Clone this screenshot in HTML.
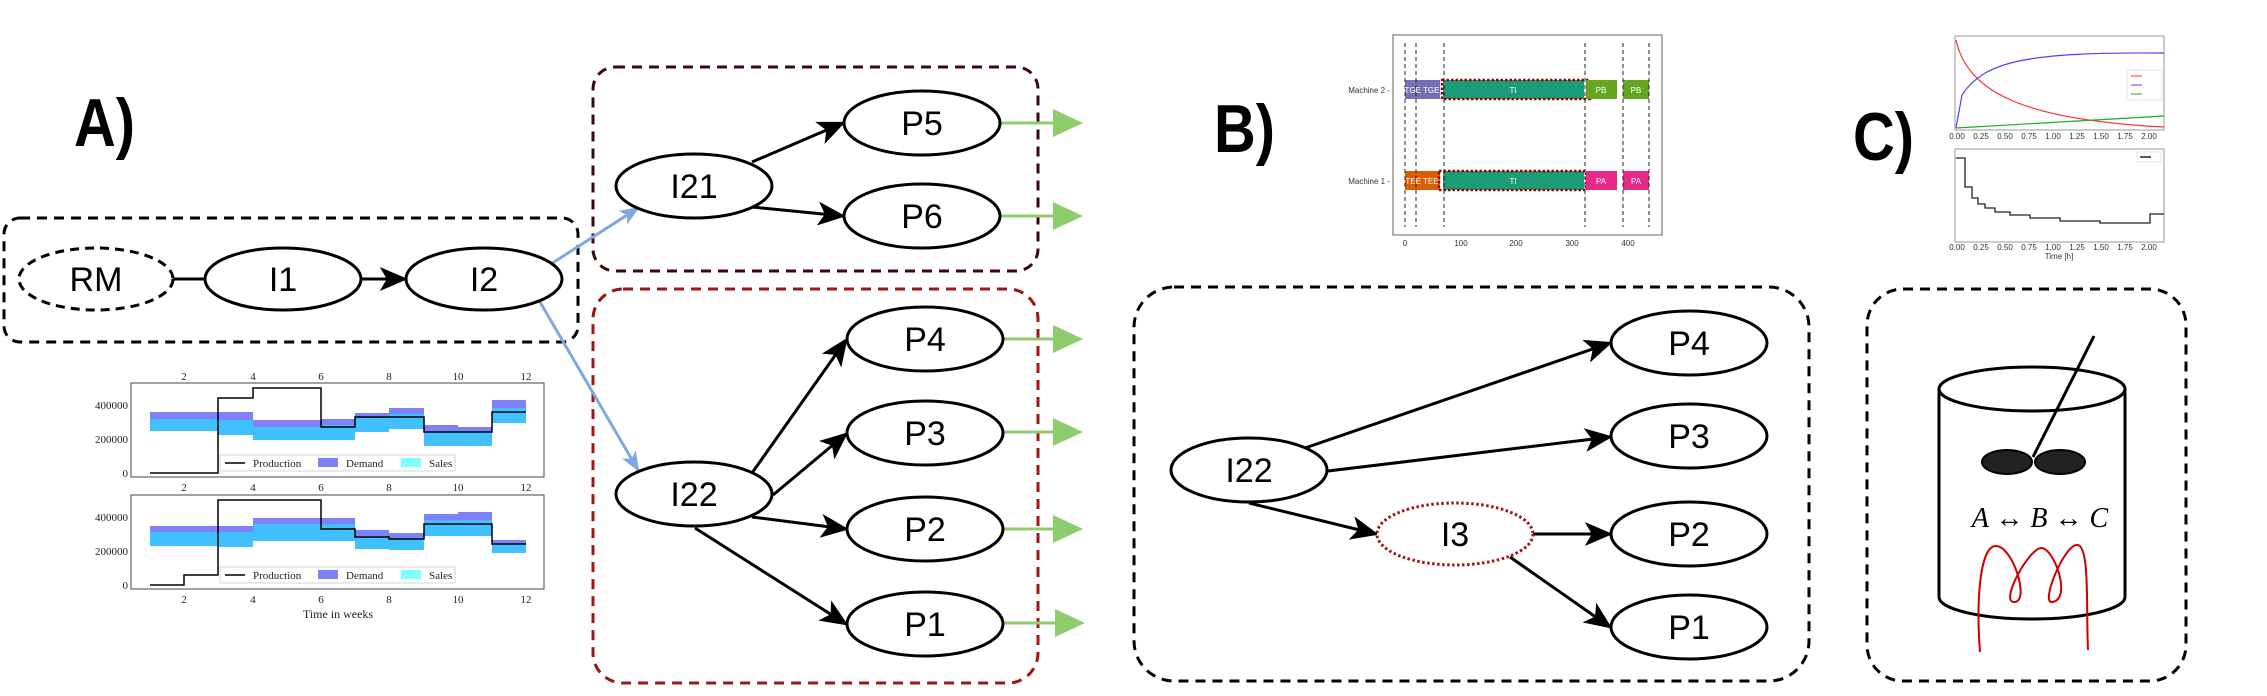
<!DOCTYPE html>
<html><head><meta charset="utf-8"><style>
html,body{margin:0;padding:0;background:#fff;}
svg{display:block;}
.n{font-family:"Liberation Sans",sans-serif;font-size:34px;text-anchor:middle;dominant-baseline:central;}
.s{font-family:"Liberation Serif",serif;font-size:11px;fill:#222;}
.g{font-family:"Liberation Sans",sans-serif;font-size:8px;fill:#333;}
</style></head><body>
<svg width="2267" height="696" viewBox="0 0 2267 696" xmlns="http://www.w3.org/2000/svg">
<defs>
<marker id="ab" viewBox="0 0 10 10" refX="10" refY="5" markerWidth="10" markerHeight="10" markerUnits="userSpaceOnUse" orient="auto"><path d="M0,0 L10,5 L0,10 L2.5,5 z" fill="#000"/></marker>
<marker id="abig" viewBox="0 0 10 10" refX="9" refY="5" markerWidth="28" markerHeight="24" markerUnits="userSpaceOnUse" orient="auto" preserveAspectRatio="none"><path d="M0,0 L10,5 L0,10 L2.5,5 z" fill="#000"/></marker>
<marker id="ablue" viewBox="0 0 10 10" refX="9" refY="5" markerWidth="20" markerHeight="16" markerUnits="userSpaceOnUse" orient="auto" preserveAspectRatio="none"><path d="M0,0 L10,5 L0,10 L2.5,5 z" fill="#7fa7e0"/></marker>
<marker id="agreen" viewBox="0 0 10 10" refX="9" refY="5" markerWidth="30" markerHeight="28" markerUnits="userSpaceOnUse" orient="auto" preserveAspectRatio="none"><path d="M0,0 L10,5 L0,10 z" fill="#8fcc6e"/></marker>
</defs>

<!-- A) -->
<text x="74" y="146" font-family="Liberation Sans,sans-serif" font-weight="bold" font-size="68" transform="translate(74 0) scale(0.85 1) translate(-74 0)">A)</text>
<text x="1214" y="152" font-family="Liberation Sans,sans-serif" font-weight="bold" font-size="68" transform="translate(1214 0) scale(0.85 1) translate(-1214 0)">B)</text>
<text x="1853" y="160" font-family="Liberation Sans,sans-serif" font-weight="bold" font-size="68" transform="translate(1853 0) scale(0.85 1) translate(-1853 0)">C)</text>

<!-- boxes -->
<rect x="4" y="218" width="574" height="124" rx="16" fill="none" stroke="#000" stroke-width="3" stroke-dasharray="10,7"/>
<rect x="593" y="67" width="445" height="204" rx="22" fill="none" stroke="#3a0808" stroke-width="3" stroke-dasharray="10,7"/>
<rect x="593" y="289" width="445" height="394" rx="30" fill="none" stroke="#a01515" stroke-width="3" stroke-dasharray="10,7"/>
<rect x="1134" y="287" width="675" height="394" rx="40" fill="none" stroke="#000" stroke-width="3" stroke-dasharray="10,7"/>
<rect x="1867" y="289" width="319" height="392" rx="36" fill="none" stroke="#000" stroke-width="3" stroke-dasharray="10,7"/>

<!-- A edges -->
<line x1="173" y1="279" x2="205" y2="279" stroke="#000" stroke-width="3"/>
<line x1="361" y1="279" x2="405" y2="279" stroke="#000" stroke-width="3" marker-end="url(#abig)"/>
<line x1="551" y1="264" x2="638" y2="208" stroke="#7fa7e0" stroke-width="3" marker-end="url(#ablue)"/>
<line x1="540" y1="302" x2="638" y2="470" stroke="#7fa7e0" stroke-width="3" marker-end="url(#ablue)"/>
<line x1="752" y1="162" x2="843" y2="123" stroke="#000" stroke-width="3" marker-end="url(#abig)"/>
<line x1="752" y1="207" x2="843" y2="216" stroke="#000" stroke-width="3" marker-end="url(#abig)"/>
<line x1="752" y1="473" x2="846" y2="340" stroke="#000" stroke-width="3" marker-end="url(#abig)"/>
<line x1="773" y1="495" x2="846" y2="434" stroke="#000" stroke-width="3" marker-end="url(#abig)"/>
<line x1="752" y1="517" x2="846" y2="529" stroke="#000" stroke-width="3" marker-end="url(#abig)"/>
<line x1="695" y1="528" x2="846" y2="624" stroke="#000" stroke-width="3" marker-end="url(#abig)"/>
<g stroke="#8fcc6e" stroke-width="3">
<line x1="1001" y1="123" x2="1080" y2="123" marker-end="url(#agreen)"/>
<line x1="1001" y1="216" x2="1080" y2="216" marker-end="url(#agreen)"/>
<line x1="1003" y1="339" x2="1080" y2="339" marker-end="url(#agreen)"/>
<line x1="1003" y1="432" x2="1080" y2="432" marker-end="url(#agreen)"/>
<line x1="1003" y1="529" x2="1080" y2="529" marker-end="url(#agreen)"/>
<line x1="1003" y1="623" x2="1082" y2="623" marker-end="url(#agreen)"/>
</g>

<!-- A nodes -->
<g fill="#fff" stroke="#000" stroke-width="3">
<ellipse cx="96" cy="279" rx="77" ry="31" stroke-dasharray="9,6"/>
<ellipse cx="283" cy="279" rx="78" ry="31"/>
<ellipse cx="484" cy="279" rx="78" ry="31"/>
<ellipse cx="694" cy="186" rx="78" ry="32"/>
<ellipse cx="922" cy="123" rx="78" ry="32"/>
<ellipse cx="922" cy="216" rx="78" ry="32"/>
<ellipse cx="925" cy="339" rx="78" ry="32"/>
<ellipse cx="925" cy="433" rx="78" ry="32"/>
<ellipse cx="925" cy="529" rx="78" ry="32"/>
<ellipse cx="925" cy="624" rx="78" ry="32"/>
<ellipse cx="694" cy="494" rx="78" ry="32"/>
</g>
<g class="n">
<text x="96" y="280">RM</text><text x="283" y="280">I1</text><text x="484" y="280">I2</text>
<text x="694" y="187">I21</text><text x="922" y="124">P5</text><text x="922" y="217">P6</text>
<text x="925" y="340">P4</text><text x="925" y="434">P3</text><text x="925" y="530">P2</text><text x="925" y="625">P1</text>
<text x="694" y="495">I22</text>
</g>

<!-- A charts -->
<g>
<rect x="131" y="383" width="413" height="94" fill="#fff" stroke="#444" stroke-width="1"/>
<g fill="#8080f8">
<rect x="150" y="412" width="68" height="17"/><rect x="218" y="412" width="35" height="20"/><rect x="253" y="420" width="68" height="16"/><rect x="321" y="419" width="34" height="15"/><rect x="355" y="413" width="34" height="15"/><rect x="389" y="408" width="35" height="16"/><rect x="424" y="425" width="34" height="15"/><rect x="458" y="427" width="34" height="14"/><rect x="492" y="400" width="34" height="22"/>
</g>
<g fill="#40c0ff">
<rect x="150" y="419" width="68" height="12"/><rect x="218" y="420" width="35" height="15"/><rect x="253" y="427" width="68" height="13"/><rect x="321" y="425" width="34" height="15"/><rect x="355" y="418" width="34" height="14"/><rect x="389" y="414" width="35" height="15"/><rect x="424" y="431" width="34" height="15"/><rect x="458" y="431" width="34" height="15"/><rect x="492" y="408" width="34" height="15"/>
</g>
<polyline points="150,473 218,473 218,398 253,398 253,388 321,388 321,427 355,427 355,417 424,417 424,432 492,432 492,412 526,412" fill="none" stroke="#000" stroke-width="1.5"/>
<rect x="220" y="455" width="235" height="16" fill="#fff" stroke="#ccc" stroke-width="0.8"/>
<line x1="225" y1="463" x2="245" y2="463" stroke="#000" stroke-width="1.5"/><text class="s" x="253" y="467" font-size="10">Production</text>
<rect x="318" y="458" width="20" height="9" fill="#8080f8"/><text class="s" x="346" y="467" font-size="10">Demand</text>
<rect x="401" y="458" width="20" height="9" fill="#80ffff"/><text class="s" x="429" y="467" font-size="10">Sales</text>
<g class="s" text-anchor="end"><text x="128" y="409">400000</text><text x="128" y="443">200000</text><text x="128" y="477">0</text></g>
<g class="s" text-anchor="middle"><text x="184" y="491">2</text><text x="253" y="491">4</text><text x="321" y="491">6</text><text x="389" y="491">8</text><text x="458" y="491">10</text><text x="526" y="491">12</text>
<text x="184" y="380">2</text><text x="253" y="380">4</text><text x="321" y="380">6</text><text x="389" y="380">8</text><text x="458" y="380">10</text><text x="526" y="380">12</text></g>

<rect x="131" y="495" width="413" height="94" fill="#fff" stroke="#444" stroke-width="1"/>
<g fill="#8080f8">
<rect x="150" y="526" width="68" height="17"/><rect x="218" y="526" width="35" height="17"/><rect x="253" y="518" width="68" height="17"/><rect x="321" y="518" width="34" height="17"/><rect x="355" y="530" width="34" height="16"/><rect x="389" y="533" width="35" height="14"/><rect x="424" y="514" width="34" height="16"/><rect x="458" y="512" width="34" height="18"/><rect x="492" y="540" width="34" height="9"/>
</g>
<g fill="#40c0ff">
<rect x="150" y="532" width="68" height="14"/><rect x="218" y="532" width="35" height="15"/><rect x="253" y="524" width="68" height="17"/><rect x="321" y="524" width="34" height="17"/><rect x="355" y="536" width="34" height="13"/><rect x="389" y="538" width="35" height="12"/><rect x="424" y="520" width="34" height="16"/><rect x="458" y="520" width="34" height="16"/><rect x="492" y="543" width="34" height="10"/>
</g>
<polyline points="150,585 184,585 184,575 218,575 218,500 321,500 321,529 355,529 355,537 389,537 389,539 424,539 424,524 492,524 492,544 526,544" fill="none" stroke="#000" stroke-width="1.5"/>
<rect x="220" y="567" width="235" height="16" fill="#fff" stroke="#ccc" stroke-width="0.8"/>
<line x1="225" y1="575" x2="245" y2="575" stroke="#000" stroke-width="1.5"/><text class="s" x="253" y="579" font-size="10">Production</text>
<rect x="318" y="570" width="20" height="9" fill="#8080f8"/><text class="s" x="346" y="579" font-size="10">Demand</text>
<rect x="401" y="570" width="20" height="9" fill="#80ffff"/><text class="s" x="429" y="579" font-size="10">Sales</text>
<g class="s" text-anchor="end"><text x="128" y="521">400000</text><text x="128" y="555">200000</text><text x="128" y="589">0</text></g>
<g class="s" text-anchor="middle"><text x="184" y="603">2</text><text x="253" y="603">4</text><text x="321" y="603">6</text><text x="389" y="603">8</text><text x="458" y="603">10</text><text x="526" y="603">12</text>
<text x="338" y="618" font-size="12">Time in weeks</text></g>
</g>

<!-- Gantt -->
<rect x="1393" y="35" width="269" height="200" fill="#fff" stroke="#666" stroke-width="1"/>
<rect x="1405" y="80" width="35" height="19" fill="#7570b3"/>
<rect x="1443" y="80" width="141" height="19" fill="#1b9e77"/>
<rect x="1442" y="80" width="148" height="19" fill="none" stroke="#a00000" stroke-width="2.5" stroke-dasharray="2.5,2"/>
<rect x="1586" y="80" width="31" height="19" fill="#66a61e"/>
<rect x="1623" y="80" width="26" height="19" fill="#66a61e"/>
<rect x="1405" y="171" width="35" height="19" fill="#d95f02"/>
<rect x="1443" y="171" width="141" height="19" fill="#1b9e77"/>
<rect x="1439" y="171" width="147" height="19" fill="none" stroke="#a00000" stroke-width="2.5" stroke-dasharray="2.5,2"/>
<rect x="1586" y="171" width="31" height="19" fill="#e7298a"/>
<rect x="1623" y="171" width="26" height="19" fill="#e7298a"/>
<g stroke="#222" stroke-width="1" stroke-dasharray="4,3">
<line x1="1405" y1="43" x2="1405" y2="227"/><line x1="1416" y1="43" x2="1416" y2="227"/><line x1="1444" y1="43" x2="1444" y2="227"/><line x1="1585" y1="43" x2="1585" y2="227"/><line x1="1623" y1="43" x2="1623" y2="227"/><line x1="1649" y1="43" x2="1649" y2="227"/>
</g>
<g class="g" fill="#fff" text-anchor="middle" style="fill:#fff">
<text x="1422" y="93">TGE TGE</text><text x="1513" y="93">TI</text><text x="1601" y="93">PB</text><text x="1636" y="93">PB</text>
<text x="1422" y="184">TEE TEE</text><text x="1513" y="184">TI</text><text x="1601" y="184">PA</text><text x="1636" y="184">PA</text>
</g>
<g class="g" text-anchor="end"><text x="1390" y="93">Machine 2 -</text><text x="1390" y="184">Machine 1 -</text></g>
<g class="g" text-anchor="middle"><text x="1405" y="246">0</text><text x="1461" y="246">100</text><text x="1516" y="246">200</text><text x="1572" y="246">300</text><text x="1628" y="246">400</text></g>

<!-- Conc plots -->
<rect x="1955" y="36" width="209" height="94" fill="#fff" stroke="#999" stroke-width="1"/>
<path d="M1956,40 C1968,95 2030,120 2164,127" fill="none" stroke="#f33" stroke-width="1.2"/>
<path d="M1956,128 L1962,95 C1985,60 2030,52 2164,53" fill="none" stroke="#44f" stroke-width="1.2"/>
<path d="M1956,128 L2164,116" fill="none" stroke="#2a2" stroke-width="1.2"/>
<rect x="2127" y="70" width="35" height="30" fill="#fff" stroke="#ddd" stroke-width="0.8"/>
<line x1="2131" y1="76" x2="2142" y2="76" stroke="#f33"/><line x1="2131" y1="85" x2="2142" y2="85" stroke="#44f"/><line x1="2131" y1="94" x2="2142" y2="94" stroke="#2a2"/>
<rect x="1955" y="149" width="209" height="93" fill="#fff" stroke="#999" stroke-width="1"/>
<polyline points="1956,158 1965,158 1965,187 1972,187 1972,198 1978,198 1978,204 1985,204 1985,208 1995,208 1995,212 2010,212 2010,215 2030,215 2030,218 2060,218 2060,221 2100,221 2100,223 2150,223 2150,214 2164,214" fill="none" stroke="#222" stroke-width="1.3"/>
<rect x="2137" y="152" width="24" height="10" fill="#fff" stroke="#ddd" stroke-width="0.8"/><line x1="2140" y1="157" x2="2151" y2="157" stroke="#222" stroke-width="1.5"/>
<g class="g" font-size="6" text-anchor="middle"><text x="1957" y="139">0.00</text><text x="1981" y="139">0.25</text><text x="2005" y="139">0.50</text><text x="2029" y="139">0.75</text><text x="2053" y="139">1.00</text><text x="2077" y="139">1.25</text><text x="2101" y="139">1.50</text><text x="2125" y="139">1.75</text><text x="2149" y="139">2.00</text>
<text x="1957" y="250">0.00</text><text x="1981" y="250">0.25</text><text x="2005" y="250">0.50</text><text x="2029" y="250">0.75</text><text x="2053" y="250">1.00</text><text x="2077" y="250">1.25</text><text x="2101" y="250">1.50</text><text x="2125" y="250">1.75</text><text x="2149" y="250">2.00</text>
<text x="2059" y="259">Time [h]</text></g>

<!-- B edges -->
<line x1="1305" y1="448" x2="1610" y2="343" stroke="#000" stroke-width="3" marker-end="url(#abig)"/>
<line x1="1328" y1="471" x2="1610" y2="437" stroke="#000" stroke-width="3" marker-end="url(#abig)"/>
<line x1="1249" y1="503" x2="1376" y2="534" stroke="#000" stroke-width="3" marker-end="url(#abig)"/>
<line x1="1533" y1="534" x2="1610" y2="534" stroke="#000" stroke-width="3" marker-end="url(#abig)"/>
<line x1="1510" y1="557" x2="1610" y2="627" stroke="#000" stroke-width="3" marker-end="url(#abig)"/>
<g fill="#fff" stroke="#000" stroke-width="3">
<ellipse cx="1249" cy="470" rx="78" ry="32"/>
<ellipse cx="1689" cy="343" rx="78" ry="32"/>
<ellipse cx="1689" cy="436" rx="78" ry="32"/>
<ellipse cx="1689" cy="534" rx="78" ry="32"/>
<ellipse cx="1689" cy="627" rx="78" ry="32"/>
</g>
<ellipse cx="1455" cy="534" rx="78" ry="31" fill="#fff" stroke="#a01515" stroke-width="3" stroke-dasharray="2.5,2.5"/>
<g class="n">
<text x="1249" y="471">I22</text><text x="1689" y="344">P4</text><text x="1689" y="437">P3</text><text x="1689" y="535">P2</text><text x="1689" y="628">P1</text><text x="1455" y="535">I3</text>
</g>

<!-- C reactor -->
<path d="M1939,389 L1939,597 A93,22 0 0 0 2125,597 L2125,389" fill="none" stroke="#000" stroke-width="3"/>
<ellipse cx="2032" cy="389" rx="93" ry="22" fill="none" stroke="#000" stroke-width="3"/>
<line x1="2094" y1="336" x2="2033" y2="457" stroke="#000" stroke-width="3"/>
<ellipse cx="2007" cy="462" rx="25" ry="12" fill="#222" stroke="#000" stroke-width="2"/>
<ellipse cx="2060" cy="462" rx="25" ry="12" fill="#222" stroke="#000" stroke-width="2"/>
<text x="2040" y="527" text-anchor="middle" font-family="Liberation Serif,serif" font-style="italic" font-size="28">A ↔ B ↔ C</text>
<path d="M1980,652 C1976,600 1980,548 1995,546 C2012,544 2030,600 2015,602 C1998,604 2030,546 2042,548 C2055,550 2072,600 2052,602 C2040,604 2065,542 2078,545 C2090,548 2086,610 2088,650" fill="none" stroke="#c00" stroke-width="2"/>
</svg>
</body></html>
